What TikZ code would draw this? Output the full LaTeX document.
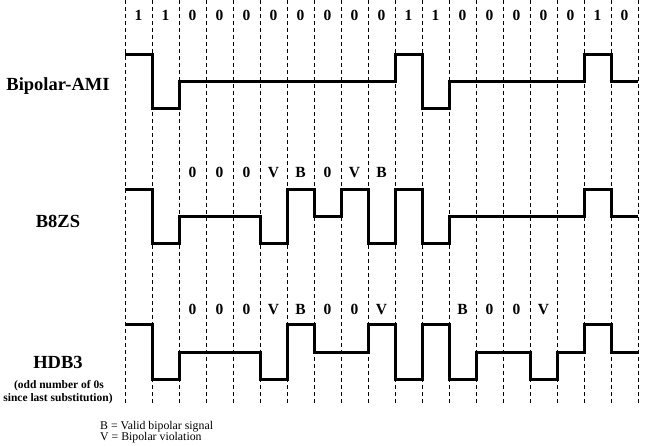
\documentclass[tikz,border=0pt]{standalone}
\usepackage{fontspec}
\setmainfont{Liberation Serif}
\begin{document}
\begin{tikzpicture}[x=1pt,y=-1pt,
  grid/.style={line width=0.9pt,dash pattern=on 4pt off 3pt},
  signal/.style={line width=3pt,line join=miter},
  bitlbl/.style={inner sep=0pt,anchor=base,font=\fontsize{15.5}{17}\selectfont\bfseries},
  namelbl/.style={inner sep=0pt,anchor=base,font=\fontsize{18.5}{20}\selectfont\bfseries},
  sublbl/.style={inner sep=0pt,anchor=base,font=\fontsize{11.5}{13}\selectfont\bfseries},
  legend/.style={inner sep=0pt,anchor=base west,font=\fontsize{11.8}{13}\selectfont}]
\useasboundingbox (0,0) rectangle (648,446);
\fill[white] (0,0) rectangle (648,446);
% grid
\foreach \k in {0,...,19}{
  \draw[grid] (125+27*\k,0) -- (125+27*\k,403);
}
% bit labels
\foreach \b [count=\i from 0] in {1,1,0,0,0,0,0,0,0,0,1,1,0,0,0,0,0,1,0}{
  \node[bitlbl] (bit\i) at (138.5+27*\i,21) {\b};
}
% B8ZS substitution labels
\foreach \b [count=\i from 2] in {0,0,0,V,B,0,V,B}{
  \node[bitlbl] (bz\i) at (138.5+27*\i,178) {\b};
}
% HDB3 substitution labels
\foreach \b [count=\i from 2] in {0,0,0,V,B,0,0,V}{
  \node[bitlbl] (hd\i) at (138.5+27*\i,315) {\b};
}
\foreach \b [count=\i from 12] in {B,0,0,V}{
  \node[bitlbl] (hd\i) at (138.5+27*\i,315) {\b};
}
% names
\node[namelbl] (ami) at (58,91) {Bipolar-AMI};
\node[namelbl] (b8zs) at (58,228) {B8ZS};
\node[namelbl] (hdb3) at (58,368) {HDB3};
\node[sublbl] (sub1) at (59,388) {(odd number of 0s};
\node[sublbl] (sub2) at (58,401) {since last substitution)};
% legend
\node[legend] (legB) at (100,429) {B = Valid bipolar signal};
\node[legend] (legV) at (100,440) {V = Bipolar violation};
% Bipolar-AMI
\draw[signal] (125,55)--(152,55)--(152,109)--(179,109)--(179,82)--(395,82)--(395,55)--(422,55)--(422,109)--(449,109)--(449,82)--(584,82)--(584,55)--(611,55)--(611,82)--(638,82);
% B8ZS
\draw[signal] (125,190)--(152,190)--(152,244)--(179,244)--(179,217)--(260,217)--(260,244)--(287,244)--(287,190)--(314,190)--(314,217)--(341,217)--(341,190)--(368,190)--(368,244)--(395,244)--(395,190)--(422,190)--(422,244)--(449,244)--(449,217)--(584,217)--(584,190)--(611,190)--(611,217)--(638,217);
% HDB3
\draw[signal] (125,325)--(152,325)--(152,379)--(179,379)--(179,352)--(260,352)--(260,379)--(287,379)--(287,325)--(314,325)--(314,352)--(368,352)--(368,325)--(395,325)--(395,379)--(422,379)--(422,325)--(449,325)--(449,379)--(476,379)--(476,352)--(530,352)--(530,379)--(557,379)--(557,352)--(584,352)--(584,325)--(611,325)--(611,352)--(638,352);
\end{tikzpicture}
\end{document}
